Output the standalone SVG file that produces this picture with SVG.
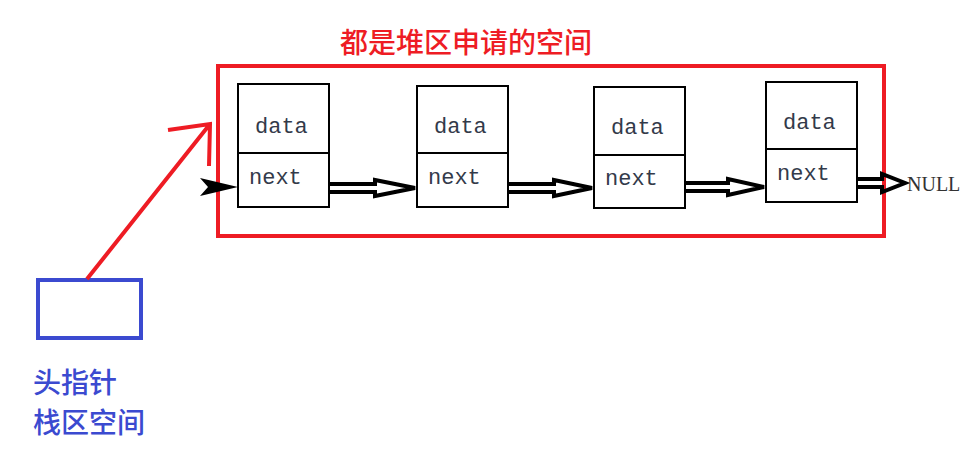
<svg xmlns="http://www.w3.org/2000/svg" width="967" height="455" viewBox="0 0 967 455">
<style>
.box{fill:#fff;stroke:#000;stroke-width:2}
.t{font-family:"Liberation Mono",monospace;font-size:22px;fill:#333a4a}
.cn{font-family:"Noto Sans CJK SC",sans-serif;font-size:28px;font-weight:500}
.dbl{fill:none;stroke:#000;stroke-width:4}
</style>
<rect width="967" height="455" fill="#fff"/>
<g id="heap">
<rect x="218" y="66" width="666" height="170" fill="none" stroke="#ee1c24" stroke-width="4"/>
<text x="340" y="53" class="cn" fill="#ee1c24">都是堆区申请的空间</text>
</g>
<g id="n1"><rect class="box" x="238" y="84" width="91" height="123"/><line x1="238" y1="153" x2="329" y2="153" stroke="#000" stroke-width="2"/><text class="t" x="255" y="133">data</text><text class="t" x="249" y="184">next</text></g>
<g id="n2"><rect class="box" x="417" y="86" width="91" height="121"/><line x1="417" y1="153" x2="508" y2="153" stroke="#000" stroke-width="2"/><text class="t" x="434" y="133">data</text><text class="t" x="428" y="184">next</text></g>
<g id="n3"><rect class="box" x="594" y="87" width="91" height="121"/><line x1="594" y1="155" x2="685" y2="155" stroke="#000" stroke-width="2"/><text class="t" x="611" y="134">data</text><text class="t" x="605" y="185">next</text></g>
<g id="n4"><rect class="box" x="766" y="82" width="91" height="120"/><line x1="766" y1="149" x2="857" y2="149" stroke="#000" stroke-width="2"/><text class="t" x="783" y="129">data</text><text class="t" x="777" y="180">next</text></g>
<g id="stack">
<rect x="38" y="280" width="103" height="58" fill="none" stroke="#3b4ad0" stroke-width="4"/>
<text x="33" y="393" class="cn" fill="#3b4ad0">头指针</text>
<text x="33" y="433" class="cn" fill="#3b4ad0">栈区空间</text>
</g>
<g id="connectors">
<path d="M87 279 L210 124 M168 130 L210 124 L209 166" fill="none" stroke="#ee1c24" stroke-width="4"/>
<path d="M200 178 L238 187 L200 196 L208 187 Z" fill="#000"/>
<path class="dbl" d="M329 184 H375 V180 L415 188 L375 196 V192 H329"/>
<path class="dbl" d="M508 184 H554 V180 L592 188 L554 196 V192 H508"/>
<path class="dbl" d="M685 183 H728 V179 L764 187 L728 195 V191 H685"/>
<path class="dbl" d="M857 179 H882 V174 L905 183 L882 192 V187 H857"/>
<text x="907" y="191" font-family="Liberation Serif,serif" font-size="20" fill="#333">NULL</text>
</g>
</svg>
